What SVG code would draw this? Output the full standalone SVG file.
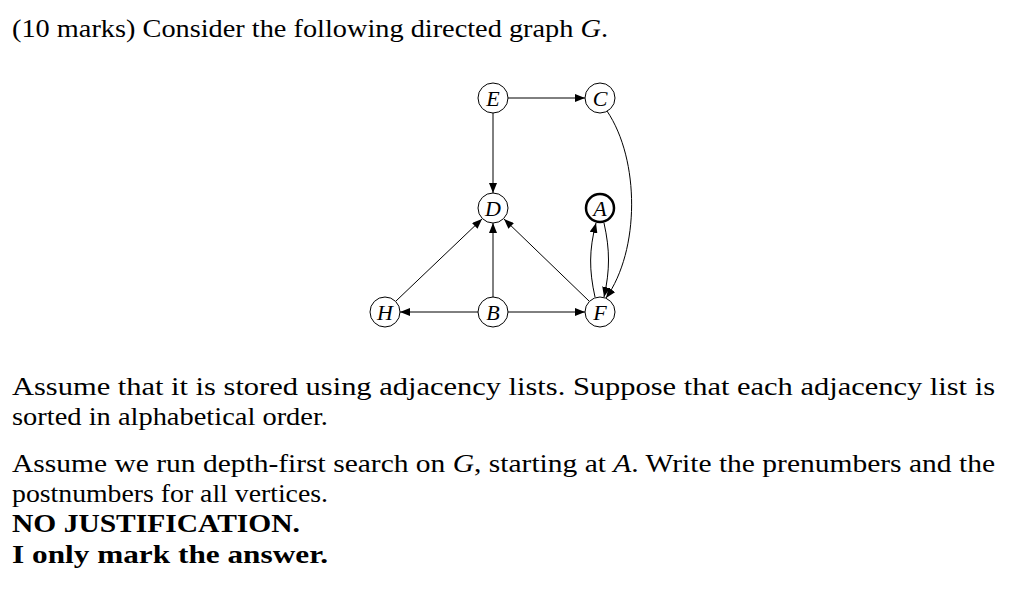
<svg xmlns="http://www.w3.org/2000/svg" width="1024" height="594" viewBox="0 0 1024 594">
<style>
.t{font-family:"Liberation Serif",serif;font-size:25px;fill:#000}
.b{font-weight:bold}
.n circle{fill:#fff;stroke:#000;stroke-width:1}
.n text{font-family:"Liberation Serif",serif;font-style:italic;font-size:22px;text-anchor:middle}
#edges path{fill:none;stroke:#000;stroke-width:1;marker-end:url(#ah)}
</style>
<defs><marker id="ah" viewBox="0 0 10 8" refX="10" refY="4" markerWidth="10" markerHeight="8" markerUnits="userSpaceOnUse" orient="auto"><path d="M0,0L10,4L0,8z"/></marker></defs>
<rect width="1024" height="594" fill="#fff"/>
<text class="t" x="12" y="37" textLength="596" lengthAdjust="spacingAndGlyphs">(10 marks) Consider the following directed graph <tspan font-style="italic">G</tspan>.</text>
<g id="edges">
<path d="M508,98H585"/>
<path d="M493,113V193"/>
<path d="M396,301L482,219"/>
<path d="M493,297V223"/>
<path d="M589,301L504,219"/>
<path d="M478,312H400"/>
<path d="M508,312H585"/>
<path d="M607,111C640,160,640,250,606,298"/>
<path d="M604,223C610,250,610,270,604,297"/>
<path d="M595,297C589,270,589,250,596,223"/>
</g>
<g id="E" class="n"><circle cx="493" cy="98" r="15"/><text x="493" y="106">E</text></g>
<g id="C" class="n"><circle cx="600" cy="98" r="15"/><text x="600" y="106">C</text></g>
<g id="D" class="n"><circle cx="493" cy="208" r="15"/><text x="493" y="216">D</text></g>
<g id="A" class="n"><circle cx="600" cy="208" r="14" style="stroke-width:2.5"/><text x="600" y="216">A</text></g>
<g id="H" class="n"><circle cx="385" cy="312" r="15"/><text x="385" y="320">H</text></g>
<g id="B" class="n"><circle cx="493" cy="312" r="15"/><text x="493" y="320">B</text></g>
<g id="F" class="n"><circle cx="600" cy="312" r="15"/><text x="600" y="320">F</text></g>
<text class="t" x="12" y="395" textLength="983" lengthAdjust="spacingAndGlyphs">Assume that it is stored using adjacency lists. Suppose that each adjacency list is</text>
<text class="t" x="12" y="425" textLength="316" lengthAdjust="spacingAndGlyphs">sorted in alphabetical order.</text>
<text class="t" x="12" y="472" textLength="983" lengthAdjust="spacingAndGlyphs">Assume we run depth-first search on <tspan font-style="italic">G</tspan>, starting at <tspan font-style="italic">A</tspan>. Write the prenumbers and the</text>
<text class="t" x="12" y="502" textLength="316" lengthAdjust="spacingAndGlyphs">postnumbers for all vertices.</text>
<text class="t b" x="12" y="532" textLength="288" lengthAdjust="spacingAndGlyphs">NO JUSTIFICATION.</text>
<text class="t b" x="12" y="563" textLength="316" lengthAdjust="spacingAndGlyphs">I only mark the answer.</text>
</svg>
